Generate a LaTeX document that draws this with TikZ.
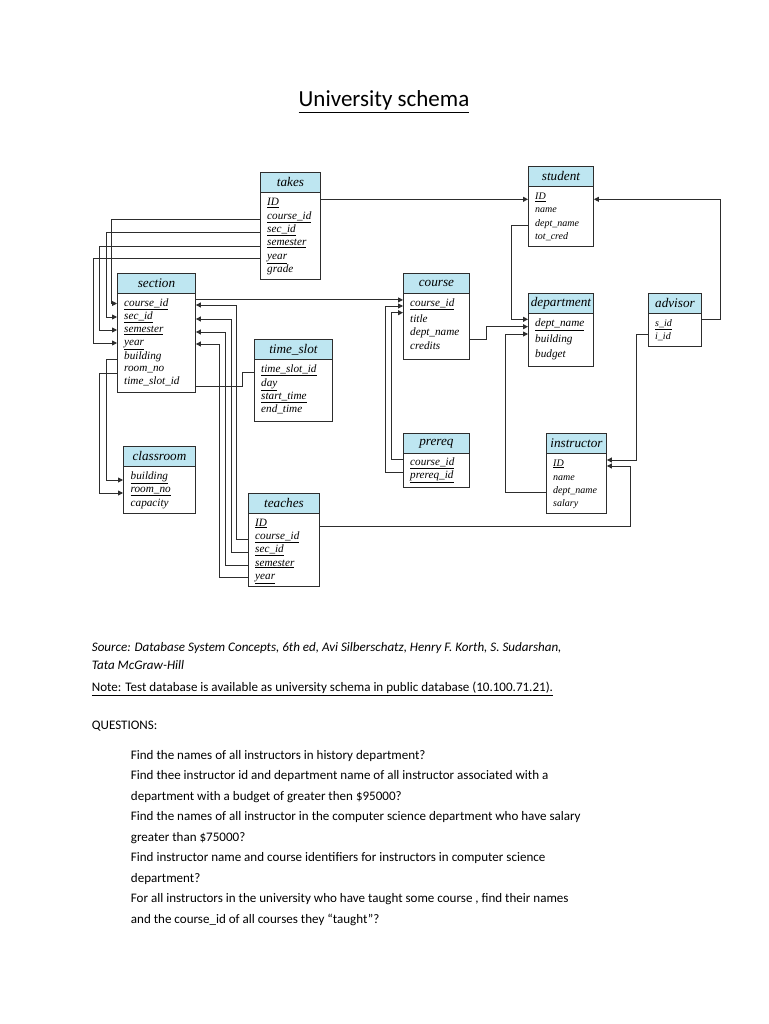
\documentclass[tikz,border=0pt]{standalone}
\usepackage{fontspec}
\newfontfamily\carl{Carlito}
\newfontfamily\lserif{Liberation Serif}
\usetikzlibrary{arrows.meta,calc}
\definecolor{hdr}{RGB}{190,230,241}
\definecolor{ln}{RGB}{45,45,45}
\tikzset{
  hdrbox/.style={draw=ln, fill=hdr, line width=0.9pt, anchor=north west, inner sep=0pt,
    minimum width=#1, minimum height=20pt, font=\lserif\itshape\fontsize{13.2}{15}\selectfont},
  bodybox/.style 2 args={draw=ln, line width=0.9pt, anchor=north west, inner sep=0pt,
    minimum width=#1, minimum height=#2},
  attr/.style={anchor=west, inner sep=0pt, text height=7.5pt, text depth=2.5pt,
    font=\lserif\itshape\fontsize{11.2}{13}\selectfont},
  attrs/.style={attr, font=\lserif\itshape\fontsize{10}{12}\selectfont},
  fk/.style={draw=ln, line width=0.9pt, -{Triangle[length=5pt,width=5pt]}},
  lk/.style={draw=ln, line width=0.9pt},
  txt/.style={anchor=base west, inner sep=0pt, font=\carl\fontsize{13.05}{16}\selectfont},
}
\begin{document}
\begin{tikzpicture}[x=1pt,y=-1pt]
\useasboundingbox[fill=white] (0,0) rectangle (768,1024);

% title
\node[anchor=base, inner sep=0pt, font=\carl\fontsize{23}{27}\selectfont] (title) at (384,106.7) {\underline{University schema}};

% ---------- takes
\node[hdrbox=60pt] (takesH) at (260,172) {takes};
\node[bodybox={60pt}{87pt}] (takesB) at (260,192) {};
\node[attr] (tk-id)  at (267,203)   {\underline{ID}};
\node[attr] (tk-cid) at (267,216.5) {\underline{course\_id}};
\node[attr] (tk-sid) at (267,230)   {\underline{sec\_id}};
\node[attr] (tk-sem) at (267,243.3) {\underline{semester}};
\node[attr] (tk-yr)  at (267,256.7) {\underline{year}};
\node[attr] (tk-gr)  at (267,270)   {grade};

% ---------- section
\node[hdrbox=78pt] (secH) at (117,273) {section};
\node[bodybox={78pt}{99pt}] (secB) at (117,293) {};
\node[attr] (sc-cid) at (124,303.5) {\underline{course\_id}};
\node[attr] (sc-sid) at (124,317)   {\underline{sec\_id}};
\node[attr] (sc-sem) at (124,330)   {\underline{semester}};
\node[attr] (sc-yr)  at (124,343)   {\underline{year}};
\node[attr] (sc-bld) at (124,356.5) {building};
\node[attr] (sc-rm)  at (124,369)   {room\_no};
\node[attr] (sc-ts)  at (124,382)   {time\_slot\_id};

% ---------- course
\node[hdrbox=66pt] (crsH) at (403,273) {course};
\node[bodybox={66pt}{66pt}] (crsB) at (403,293) {};
\node[attr] (cr-cid) at (410,303.5) {\underline{course\_id}};
\node[attr] (cr-tt)  at (410,320)   {title};
\node[attr] (cr-dn)  at (410,333.3) {dept\_name};
\node[attr] (cr-cr)  at (410,346.7) {credits};

% ---------- student
\node[hdrbox=65pt] (stuH) at (528,166) {student};
\node[bodybox={65pt}{60pt}] (stuB) at (528,186) {};
\node[attrs] (st-id) at (535,197)   {\underline{ID}};
\node[attrs] (st-nm) at (535,210.5) {name};
\node[attrs] (st-dn) at (535,224)   {dept\_name};
\node[attrs] (st-tc) at (535,237.5) {tot\_cred};

% ---------- department
\node[hdrbox=65pt] (depH) at (528,293) {department};
\node[bodybox={65pt}{53pt}] (depB) at (528,313) {};
\node[attr] (dp-dn) at (535,323.5) {\underline{dept\_name}};
\node[attr] (dp-bl) at (535,340)   {building};
\node[attr] (dp-bu) at (535,355)   {budget};

% ---------- advisor
\node[hdrbox=53pt] (advH) at (648,293) {advisor};
\node[bodybox={53pt}{33pt}] (advB) at (648,313) {};
\node[attrs] (adv-s) at (655,324)   {\underline{s\_id}};
\node[attrs] (adv-i) at (655,336.7) {i\_id};

% ---------- time_slot
\node[hdrbox=78pt] (tsH) at (254,339) {time\_slot};
\node[bodybox={78pt}{62pt}] (tsB) at (254,359) {};
\node[attr] (ts-id) at (261,370) {\underline{time\_slot\_id}};
\node[attr] (ts-dy) at (261,384) {\underline{day}};
\node[attr] (ts-st) at (261,397) {\underline{start\_time}};
\node[attr] (ts-et) at (261,410) {end\_time};

% ---------- classroom
\node[hdrbox=72pt] (clH) at (123,446) {classroom};
\node[bodybox={72pt}{47pt}] (clB) at (123,466) {};
\node[attr] (cl-bld) at (130.5,477)   {\underline{building}};
\node[attr] (cl-rm)  at (130.5,490)   {\underline{room\_no}};
\node[attr] (cl-cap) at (130.5,503.5) {capacity};

% ---------- teaches
\node[hdrbox=71pt] (teaH) at (248,493) {teaches};
\node[bodybox={71pt}{73pt}] (teaB) at (248,513) {};
\node[attr] (te-id)  at (255,523.5) {\underline{ID}};
\node[attr] (te-cid) at (255,537)   {\underline{course\_id}};
\node[attr] (te-sid) at (255,550.3) {\underline{sec\_id}};
\node[attr] (te-sem) at (255,563.5) {\underline{semester}};
\node[attr] (te-yr)  at (255,577)   {\underline{year}};

% ---------- prereq
\node[hdrbox=66pt] (prH) at (403,433) {prereq};
\node[bodybox={66pt}{34pt}] (prB) at (403,453) {};
\node[attr] (pr-cid) at (410,463) {\underline{course\_id}};
\node[attr] (pr-pid) at (410,476) {\underline{prereq\_id}};

% ---------- instructor
\node[hdrbox=60pt] (insH) at (546,433) {instructor};
\node[bodybox={60pt}{60pt}] (insB) at (546,453) {};
\node[attrs] (in-id) at (553,463.5) {\underline{ID}};
\node[attrs] (in-nm) at (553,477.5) {name};
\node[attrs] (in-dn) at (553,491)   {dept\_name};
\node[attrs] (in-sa) at (553,504)   {salary};

% ---------- connectors
% takes -> section
\draw[fk] ($(takesB.west |- tk-cid)+(0,2.5)$) -| ($(secB.west |- sc-cid)+(-6,0)$) -- (secB.west |- sc-cid);
\draw[fk] ($(takesB.west |- tk-sid)+(0,2)$) -| ($(secB.west |- sc-sid)+(-11,0)$) -- (secB.west |- sc-sid);
\draw[fk] ($(takesB.west |- tk-sem)+(0,2.7)$) -| ($(secB.west |- sc-sem)+(-17.5,0)$) -- (secB.west |- sc-sem);
\draw[fk] ($(takesB.west |- tk-yr)+(0,2)$) -| ($(secB.west |- sc-yr)+(-23.5,0)$) -- (secB.west |- sc-yr);
% takes -> student
\draw[fk] ($(takesB.east |- st-id)+(0,2.3)$) -- ($(stuB.west |- st-id)+(0,2.3)$);
% section -> course
\draw[fk] ($(secH.south east)+(0,6)$) -- ($(crsH.south west)+(0,6)$);
% teaches -> section
\draw[fk] ($(teaB.west |- te-cid)+(0,2)$) -| ($(secB.east |- sc-cid)+(41,1.5)$) -- ($(secB.east |- sc-cid)+(0,1.5)$);
\draw[fk] ($(teaB.west |- te-sid)+(0,2)$) -| ($(secB.east |- sc-sid)+(35.5,2)$) -- ($(secB.east |- sc-sid)+(0,2)$);
\draw[fk] ($(teaB.west |- te-sem)+(0,2)$) -| ($(secB.east |- sc-sem)+(29.5,2)$) -- ($(secB.east |- sc-sem)+(0,2)$);
\draw[fk] ($(teaB.west |- te-yr)+(0,0)$) -| ($(secB.east |- sc-yr)+(23.5,1)$) -- ($(secB.east |- sc-yr)+(0,1)$);
% section -> time_slot
\draw[lk] ($(secB.east |- sc-ts)+(0,4)$) -| ($(tsB.west |- ts-id)+(-12,2.5)$) -- ($(tsB.west |- ts-id)+(0,2.5)$);
% section -> classroom
\draw[fk] ($(secB.west |- sc-bld)+(0,3)$) -| ($(clB.west |- cl-bld)+(-17,3)$) -- ($(clB.west |- cl-bld)+(0,3)$);
\draw[fk] ($(secB.west |- sc-rm)+(0,4)$) -| ($(clB.west |- cl-rm)+(-23.5,3)$) -- ($(clB.west |- cl-rm)+(0,3)$);
% prereq -> course
\draw[fk] ($(prB.west |- pr-cid)+(0,-3.5)$) -| ($(crsB.west |- cr-cid)+(-12,9.2)$) -- ($(crsB.west |- cr-cid)+(0,9.2)$);
\draw[fk] ($(prB.west |- pr-pid)+(0,-3.5)$) -| ($(crsB.west |- cr-cid)+(-18,2.5)$) -- ($(crsB.west |- cr-cid)+(0,2.5)$);
% -> department
\draw[fk] ($(crsB.east |- cr-dn)+(0,5.7)$) -| ($(depB.west |- dp-dn)+(-41.5,3.2)$) -- ($(depB.west |- dp-dn)+(0,3.2)$);
\draw[fk] ($(stuB.west |- st-dn)+(0,1.5)$) -| ($(depB.west |- dp-dn)+(-17,-4.2)$) -- ($(depB.west |- dp-dn)+(0,-4.2)$);
\draw[fk] ($(insB.west |- in-dn)+(0,1)$) -| ($(depB.west |- dp-dn)+(-23,10.5)$) -- ($(depB.west |- dp-dn)+(0,10.5)$);
% advisor
\draw[fk] ($(advB.east |- adv-s)+(0,-4.7)$) -| ($(stuB.east |- st-id)+(126.3,2.3)$) -- ($(stuB.east |- st-id)+(0,2.3)$);
\draw[fk] ($(advB.west |- adv-i)+(0,-2)$) -| ($(insB.east |- in-id)+(30,-3.5)$) -- ($(insB.east |- in-id)+(0,-3.5)$);
% teaches -> instructor
\draw[fk] ($(teaB.east |- te-id)+(0,2.5)$) -| ($(insB.east |- in-id)+(23.3,2.5)$) -- ($(insB.east |- in-id)+(0,2.5)$);

% ---------- text
\node[txt, font=\carl\itshape\fontsize{13.05}{16}\selectfont] (src1) at (91.7,651.5) {Source: Database System Concepts, 6th ed, Avi Silberschatz, Henry F. Korth, S. Sudarshan,};
\node[txt, font=\carl\itshape\fontsize{13.05}{16}\selectfont] (src2) at (91.7,669.5) {Tata McGraw-Hill};
\node[txt] (note) at (91.7,691.7) {\underline{Note: Test database is available as university schema in public database (10.100.71.21).}};
\node[txt] (qh) at (91.7,729.3) {QUESTIONS:};
\node[txt] (q1) at (130.7,759.3) {Find the names of all instructors in history department?};
\node[txt] (q2) at (130.7,779.8) {Find thee instructor id and department name of all instructor associated with a};
\node[txt] (q3) at (130.7,800.3) {department with a budget of greater then \$95000?};
\node[txt] (q4) at (130.7,820.8) {Find the names of all instructor in the computer science department who have salary};
\node[txt] (q5) at (130.7,841.3) {greater than \$75000?};
\node[txt] (q6) at (130.7,861.8) {Find instructor name and course identifiers for instructors in computer science};
\node[txt] (q7) at (130.7,882.3) {department?};
\node[txt] (q8) at (130.7,902.8) {For all instructors in the university who have taught some course , find their names};
\node[txt] (q9) at (130.7,923.3) {and the course\_id of all courses they “taught”?};
\end{tikzpicture}
\end{document}
